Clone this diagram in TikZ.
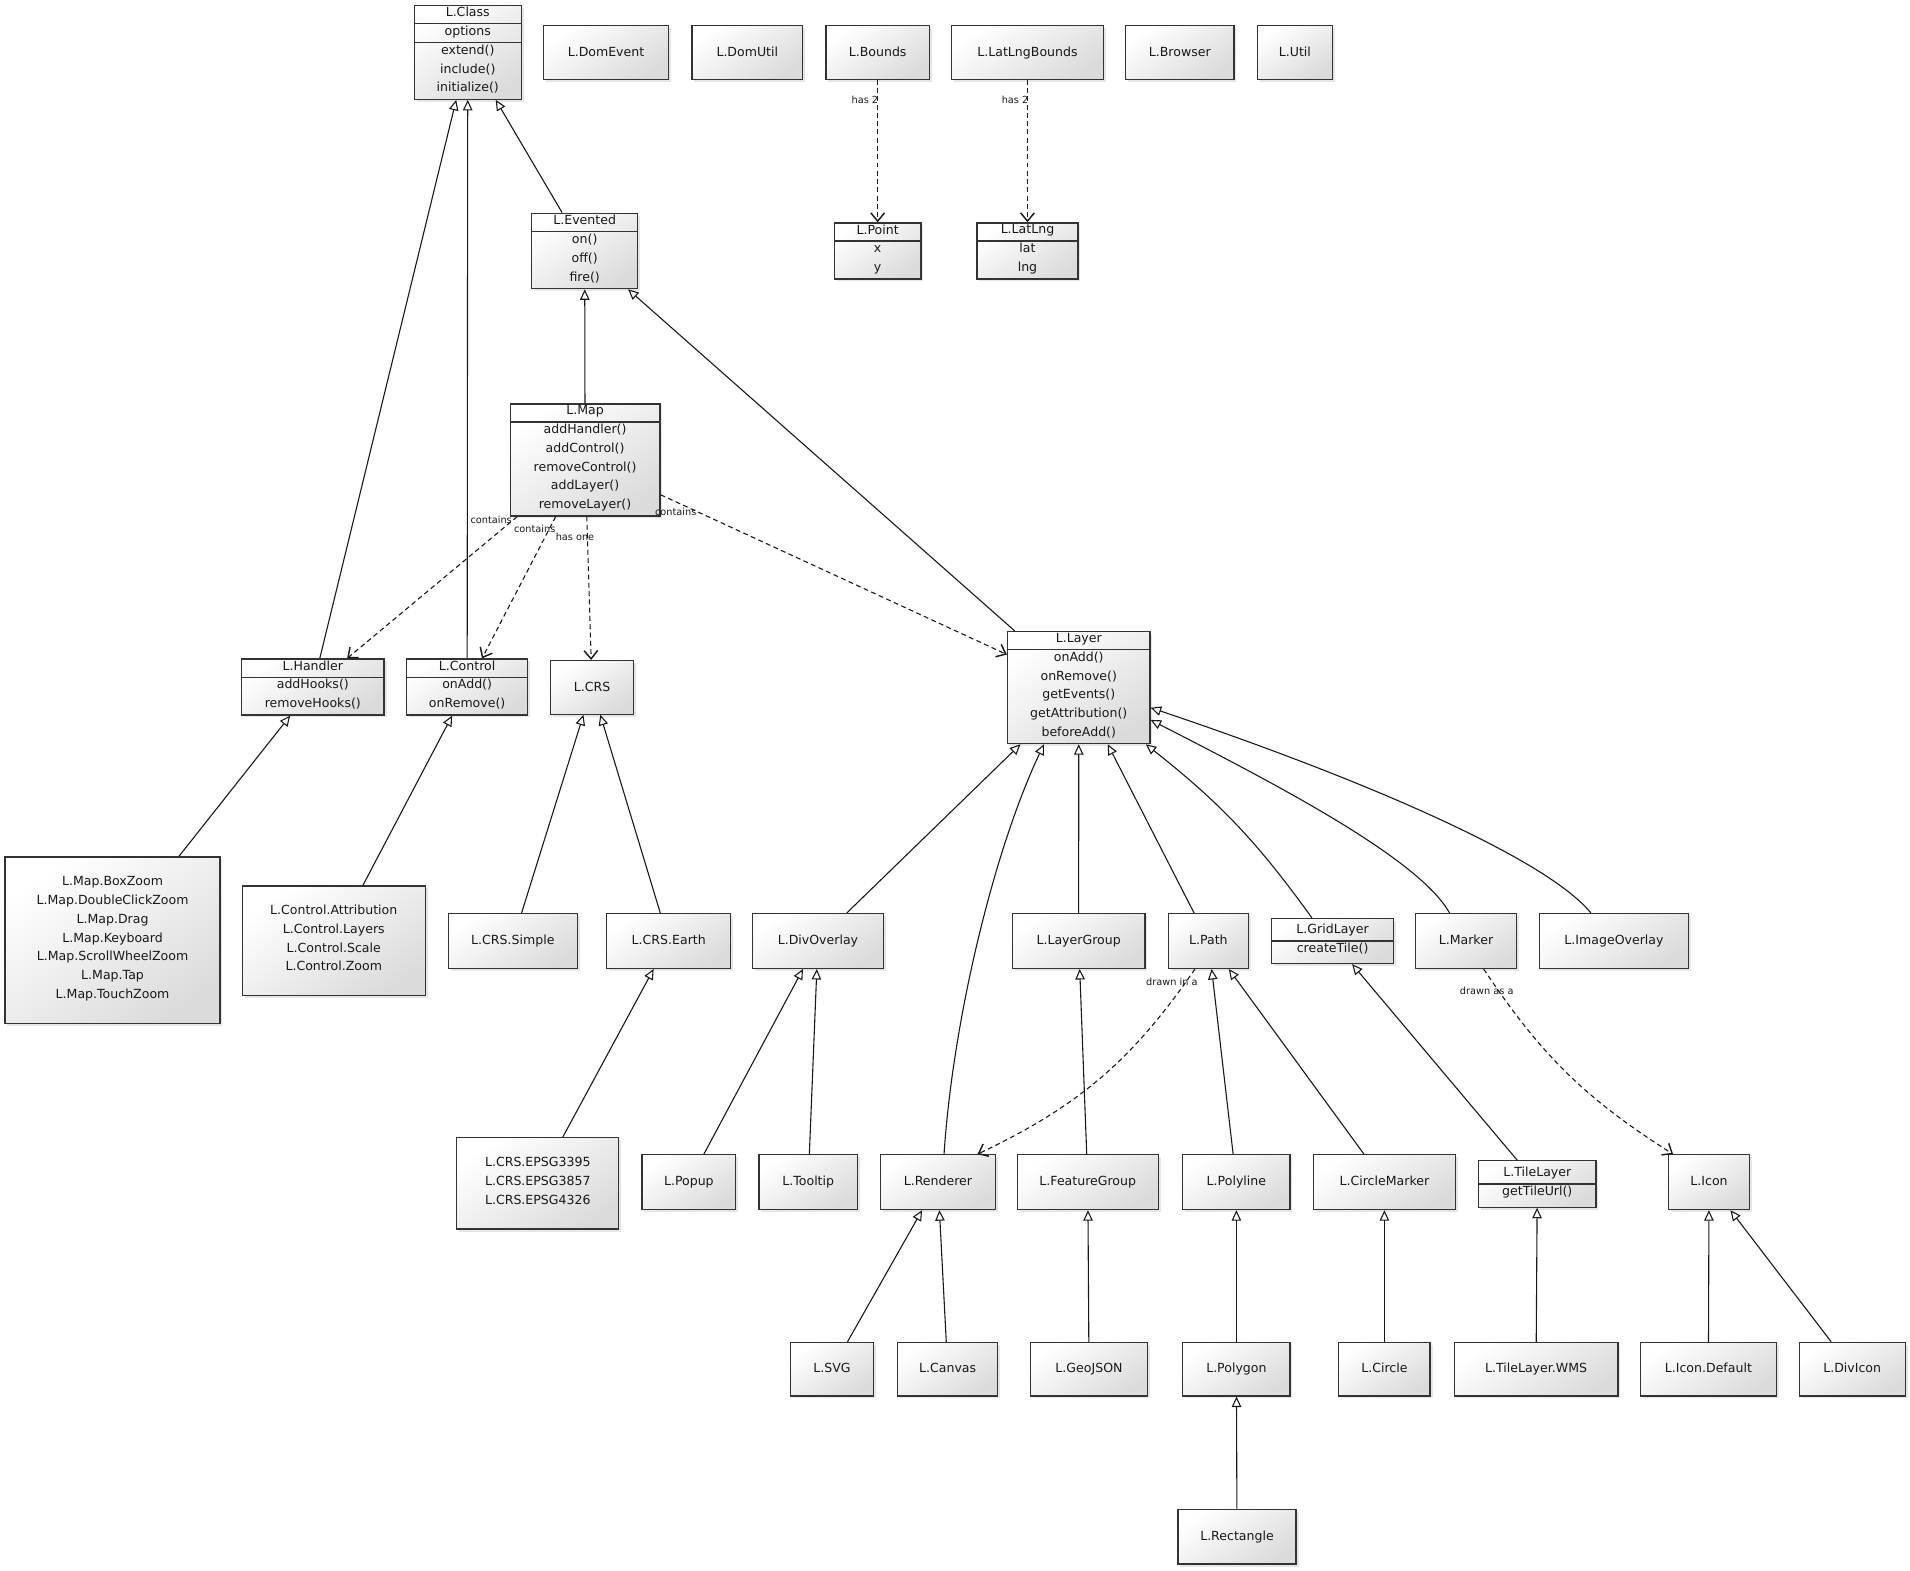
\documentclass[tikz,border=0pt]{standalone}
\usepackage{fontspec}
\setmainfont{DejaVu Sans}
\usepackage{tikz}
\usetikzlibrary{arrows.meta, calc, shadows}
\newcommand\boxfont{\fontsize{5.15}{7.7}\selectfont}
\newcommand\edgefont{\fontsize{4}{5}\selectfont}
\tikzset{
cls/.style={draw=black!80, line width=0.5pt, top color=white, bottom color=black!14, shading angle=35,
  drop shadow={shadow xshift=1pt, shadow yshift=-1pt, opacity=0.2},
  inner sep=0pt, align=center, font=\boxfont, text=black!90,
  execute at begin node=\strut, execute at end node=\strut}, % a class box
bw/.style={minimum width=#1*0.5pt}, % box width in pixels
bh/.style={minimum height=#1*0.5pt}, % box height in pixels
titleline/.style={draw=black!80, line width=0.5pt}, % line under a title
isa/.style={-{Triangle[open, length=4.3pt, width=3.9pt]}, line width=0.45pt, black!90}, % extends
uses/.style={-{Straight Barb[length=3.4pt, width=5.6pt, line width=0.6pt]}, line width=0.45pt, black!90, dash pattern=on 2pt off 1.4pt}, % has / contains
lbl/.style={font=\edgefont, text=black!90, inner sep=0pt},
}
\begin{document}
\begin{tikzpicture}[x=0.5pt, y=-0.5pt]
  \useasboundingbox (0,0) rectangle (1568,1289);

  % top row
  \node[cls, bw=88, bh=77] (class) at (384,43) {L.Class\\options\\extend()\\include()\\initialize()};
  \node[cls, bw=103, bh=44] (domevent) at (497.5,43) {L.DomEvent};
  \node[cls, bw=91, bh=44] (domutil) at (613.5,43) {L.DomUtil};
  \node[cls, bw=85, bh=44] (bounds) at (720.5,43) {L.Bounds};
  \node[cls, bw=125, bh=44] (latlngbounds) at (843.5,43) {L.LatLngBounds};
  \node[cls, bw=89, bh=44] (browser) at (968.5,43) {L.Browser};
  \node[cls, bw=62, bh=44] (util) at (1063,43) {L.Util};
  \node[cls, bw=71, bh=46] (point) at (720.5,206) {L.Point\\x\\y};
  \node[cls, bw=83, bh=46] (latlng) at (843.5,206) {L.LatLng\\lat\\lng};
  \node[cls, bw=87, bh=62] (evented) at (480,206) {L.Evented\\on()\\off()\\fire()};
  \node[cls, bw=123, bh=92] (map) at (480.3,377.6) {L.Map\\addHandler()\\addControl()\\removeControl()\\addLayer()\\removeLayer()};

  % handlers, controls, crs, layer
  \node[cls, bw=117, bh=46] (handler) at (256.8,564) {L.Handler\\addHooks()\\removeHooks()};
  \node[cls, bw=99, bh=46] (control) at (383.5,564) {L.Control\\onAdd()\\onRemove()};
  \node[cls, bw=68, bh=44] (crs) at (486,564.3) {L.CRS};
  \node[cls, bw=117, bh=92] (layer) at (885.6,564.5) {L.Layer\\onAdd()\\onRemove()\\getEvents()\\getAttribution()\\beforeAdd()};
  \node[cls, bw=176.5, bh=137] (handlerkids) at (92.4,772) {L.Map.BoxZoom\\L.Map.DoubleClickZoom\\L.Map.Drag\\L.Map.Keyboard\\L.Map.ScrollWheelZoom\\L.Map.Tap\\L.Map.TouchZoom};
  \node[cls, bw=150, bh=90] (controlkids) at (274,772.4) {L.Control.Attribution\\L.Control.Layers\\L.Control.Scale\\L.Control.Zoom};

  % middle row
  \node[cls, bw=106, bh=45] (crssimple) at (421,772.5) {L.CRS.Simple};
  \node[cls, bw=102, bh=45] (crsearth) at (549,772.5) {L.CRS.Earth};
  \node[cls, bw=107, bh=45] (divoverlay) at (671.5,772.5) {L.DivOverlay};
  \node[cls, bw=109, bh=45] (layergroup) at (885.5,772.5) {L.LayerGroup};
  \node[cls, bw=66, bh=45] (lpath) at (992,772.5) {L.Path};
  \node[cls, bw=100, bh=37] (gridlayer) at (1094,772.5) {L.GridLayer\\createTile()};
  \node[cls, bw=83, bh=45] (marker) at (1203.5,772.5) {L.Marker};
  \node[cls, bw=122, bh=45] (imageoverlay) at (1325,772.5) {L.ImageOverlay};

  % third row
  \node[cls, bw=133, bh=75] (epsg) at (441.5,971.5) {L.CRS.EPSG3395\\L.CRS.EPSG3857\\L.CRS.EPSG4326};
  \node[cls, bw=77, bh=45] (popup) at (565.5,970.5) {L.Popup};
  \node[cls, bw=81, bh=45] (tooltip) at (663.5,970.5) {L.Tooltip};
  \node[cls, bw=94, bh=45] (renderer) at (770,970.5) {L.Renderer};
  \node[cls, bw=116, bh=45] (featuregroup) at (893,970.5) {L.FeatureGroup};
  \node[cls, bw=88, bh=45] (polyline) at (1015,970.5) {L.Polyline};
  \node[cls, bw=117, bh=45] (circlemarker) at (1136.5,970.5) {L.CircleMarker};
  \node[cls, bw=96.5, bh=38] (tilelayer) at (1262,972) {L.TileLayer\\getTileUrl()};
  \node[cls, bw=66, bh=45] (icon) at (1403,970.5) {L.Icon};

  % bottom rows
  \node[cls, bw=68, bh=44] (svg) at (683,1124) {L.SVG};
  \node[cls, bw=82, bh=44] (lcanvas) at (778,1124) {L.Canvas};
  \node[cls, bw=96, bh=44] (geojson) at (894,1124) {L.GeoJSON};
  \node[cls, bw=88, bh=44] (polygon) at (1015,1124) {L.Polygon};
  \node[cls, bw=75, bh=44] (lcircle) at (1136.5,1124) {L.Circle};
  \node[cls, bw=134.5, bh=44] (wms) at (1261,1124) {L.TileLayer.WMS};
  \node[cls, bw=111.5, bh=44] (icondefault) at (1402.5,1124) {L.Icon.Default};
  \node[cls, bw=87, bh=44] (divicon) at (1520.5,1124) {L.DivIcon};
  \node[cls, bw=97, bh=45] (lrectangle) at (1015.5,1261.5) {L.Rectangle};

  % title lines
  \foreach \n in {class, evented, map, handler, control, layer, point, latlng}
    \draw[titleline] ([yshift=-7.7pt]\n.north west) -- ([yshift=-7.7pt]\n.north east);
  \draw[titleline] ([yshift=-15.4pt]class.north west) -- ([yshift=-15.4pt]class.north east);
  \foreach \n in {gridlayer, tilelayer}
    \draw[titleline] (\n.west) -- (\n.east);

  % inheritance
  \path[isa]
  (evented) edge (class)
  (handler) edge (class)
  (control) edge (class)
  (map) edge (evented)
  (layer) edge (evented)
  (handlerkids) edge (handler)
  (controlkids) edge (control)
  (crssimple) edge (crs)
  (crsearth) edge (crs)
  (epsg) edge (crsearth)
  (divoverlay) edge (layer)
  (layergroup) edge (layer)
  (lpath) edge (layer)
  (popup) edge (divoverlay)
  (tooltip) edge (divoverlay)
  (featuregroup) edge (layergroup)
  (polyline) edge (lpath)
  (circlemarker) edge (lpath)
  (tilelayer) edge (gridlayer)
  (svg) edge (renderer)
  (lcanvas) edge (renderer)
  (geojson) edge (featuregroup)
  (polygon) edge (polyline)
  (lcircle) edge (circlemarker)
  (wms) edge (tilelayer)
  (icondefault) edge (icon)
  (divicon) edge (icon)
  (lrectangle) edge (polygon);
  \draw[isa] ($(renderer.north)+(5,0)$) .. controls (782,840) and (815,700) .. ($(layer.south)+(-28.6,0)$);
  \draw[isa] ($(gridlayer.north)+(-17,0)$) to[bend right=8] ($(layer.south east)+(-4,0)$);
  \draw[isa] ($(marker.north)+(-13.5,0)$) .. controls (1165,705) and (1050,645) .. ($(layer.east)+(0,26.5)$);
  \draw[isa] ($(imageoverlay.north)+(-19,0)$) .. controls (1270,705) and (1120,640) .. ($(layer.east)+(0,16.5)$);

  % associations
  \path[uses]
  (bounds) edge node[lbl, at start, xshift=-5.25pt, yshift=-8.15pt]{has 2} (point)
  (latlngbounds) edge node[lbl, at start, xshift=-5.1pt, yshift=-8.15pt]{has 2} (latlng)
  (map) edge node[lbl, at start, xshift=-10.7pt, yshift=-1.4pt]{contains} (handler)
  (map) edge node[lbl, at start, xshift=-8.6pt, yshift=-5pt]{contains} (control)
  (map) edge node[lbl, at start, xshift=-4.85pt, yshift=-8.5pt]{has one} (crs)
  (map) edge node[lbl, at start, xshift=6.2pt, yshift=-7pt]{contains} (layer);
  \draw[uses] ($(lpath.south)+(-11,0)$) to[bend left=15] node[lbl, at start, xshift=-9.5pt, yshift=-5.2pt]{drawn in a} ($(renderer.north east)+(-15,0)$);
  \draw[uses] ($(marker.south)+(14.5,0)$) to[bend right=12] node[lbl, at start, xshift=1.25pt, yshift=-9.15pt]{drawn as a} ($(icon.north west)+(4,0)$);
\end{tikzpicture}
\end{document}
